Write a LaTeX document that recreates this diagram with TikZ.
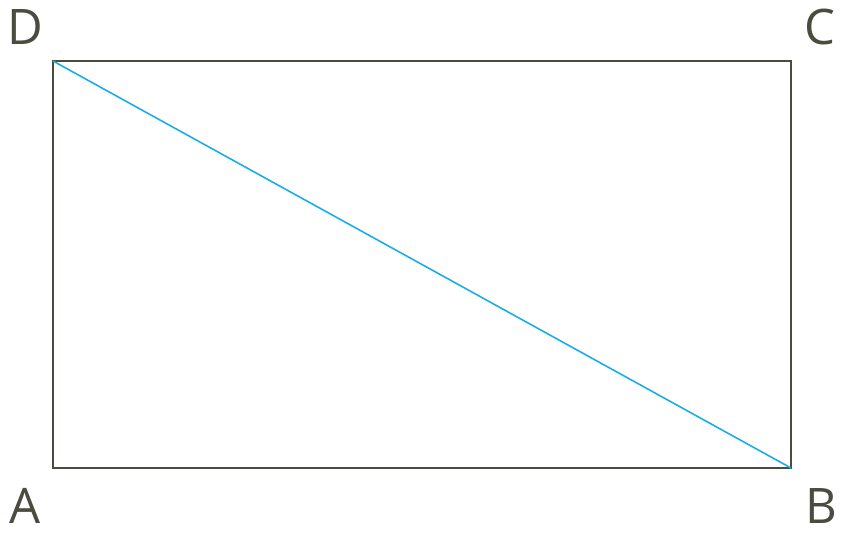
\documentclass[tikz,border=0pt]{standalone}
\usepackage{fontspec}
\setmainfont{Open Sans}
\definecolor{edgegray}{HTML}{4B4B40}
\definecolor{diagcyan}{HTML}{1CADE4}
\begin{document}
\begin{tikzpicture}[x=1pt,y=1pt,
  lbl/.style={text=edgegray,font=\fontsize{49}{49}\selectfont,anchor=base,inner sep=0pt},
  side/.style={draw=edgegray,line width=2pt},
  diag/.style={draw=diagcyan,line width=1.6pt}]
\useasboundingbox (0,0) rectangle (847,539);
\coordinate (A) at (53,71);
\coordinate (B) at (791,71);
\coordinate (C) at (791,478);
\coordinate (D) at (53,478);
\draw[side] (A) -- (B) -- (C) -- (D) -- cycle;
\draw[diag] (D) -- (B);
\node[lbl] (lD) at (25,494) {D};
\node[lbl] (lC) at (820,494) {C};
\node[lbl] (lA) at (25,16) {A};
\node[lbl] (lB) at (821,16) {B};
\end{tikzpicture}
\end{document}
